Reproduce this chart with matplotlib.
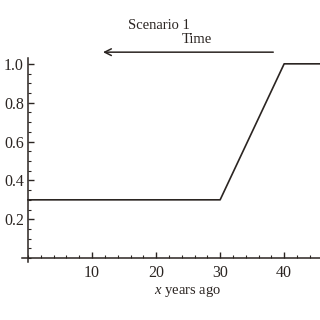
import matplotlib
matplotlib.use('Agg')
import matplotlib.pyplot as plt
import matplotlib.ticker as ticker

plt.rcParams['font.family'] = ['Liberation Serif', 'DejaVu Serif']
plt.rcParams['mathtext.fontset'] = 'custom'
plt.rcParams['mathtext.rm'] = 'Liberation Serif'
plt.rcParams['mathtext.it'] = 'Liberation Serif:italic'

# scenario 1: share over time (x years ago)
years_ago = [0, 30, 40, 46]
share = [0.3, 0.3, 1.0, 1.0]
x_ticks = [10, 20, 30, 40]
y_ticks = [0.2, 0.4, 0.6, 0.8, 1.0]

ink = '#2b2522'

fig = plt.figure(figsize=(3.2, 3.2), dpi=100)
ax = fig.add_axes([22 / 320, 58 / 320, 298 / 320, 204 / 320])
ax.plot(years_ago, share, color=ink, lw=1.2)

ax.set_xlim(-0.95, 45.6)
ax.set_ylim(-0.02, 1.03)

# mathematica-like axes crossing at the origin
for side in ['top', 'right']:
    ax.spines[side].set_visible(False)
ax.spines['left'].set_position(('data', 0))
ax.spines['bottom'].set_position(('data', 0))
ax.spines['left'].set_bounds(-0.02, 1.03)
for side in ['left', 'bottom']:
    ax.spines[side].set_color(ink)
    ax.spines[side].set_linewidth(1.1)

ax.set_xticks(x_ticks)
ax.set_yticks(y_ticks)
ax.xaxis.set_minor_locator(ticker.MultipleLocator(2))
ax.yaxis.set_minor_locator(ticker.MultipleLocator(0.05))
ax.yaxis.set_major_formatter(ticker.FormatStrFormatter('%.1f'))
ax.tick_params(which='major', direction='in', length=4, width=1.0, color=ink,
               labelsize=11.5, labelcolor=ink, pad=3)
ax.tick_params(which='minor', direction='in', length=2, width=0.8, color=ink)
ax.tick_params(axis='x', which='both', pad=5)

ax.text(25, -0.17, r'$\mathit{x}$ years ago', ha='center', va='center',
        fontsize=10.5, color=ink)

# header with time arrow
ax.text(20.4, 1.195, 'Scenario 1', ha='center', va='center', fontsize=10.5, color=ink)
ax.text(26.3, 1.125, 'Time', ha='center', va='center', fontsize=10.5, color=ink)
ax.annotate('', xy=(11.7, 1.06), xytext=(38.3, 1.06), annotation_clip=False,
            arrowprops=dict(arrowstyle='->', color=ink, lw=1.1,
                            mutation_scale=12, shrinkA=0, shrinkB=0))

fig.savefig('out.png', dpi=100)
